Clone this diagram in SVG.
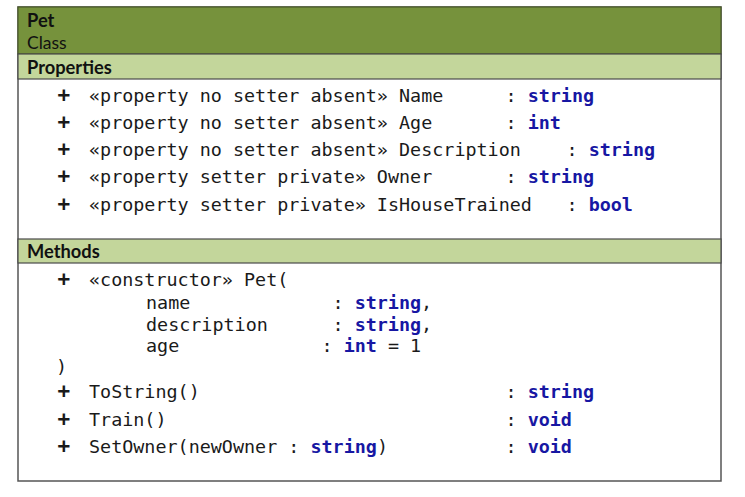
<svg xmlns="http://www.w3.org/2000/svg" width="745" height="497" viewBox="0 0 745 497">
<style>
.hdr{font-family:Lato,"Open Sans","Liberation Sans",sans-serif;font-size:17.5px;fill:#111}
.b{font-weight:bold;font-size:18.3px}
.m{font-family:"DejaVu Sans Mono","Liberation Mono",monospace;font-size:18.4px;fill:#1a1a1a}
.p{font-weight:bold;font-size:21px}
.t{font-weight:bold;fill:#1717a3}
.band{fill:#c3d69b;stroke:#4a4a4a;stroke-width:1.2}
</style>
<rect width="745" height="497" fill="#ffffff"/>
<g id="Pet">
  <rect x="18" y="7" width="703" height="474" fill="#ffffff" stroke="#555" stroke-width="1.5"/>
  <rect x="18" y="7" width="703" height="47" fill="#76923c" stroke="#4a5a28" stroke-width="1.2"/>
  <text class="hdr b" x="27" y="27">Pet</text>
  <text class="hdr" x="27" y="49" fill="#1a1a1a">Class</text>
  <rect class="band" x="18" y="54" width="703" height="25"/>
  <text class="hdr b" x="27" y="74">Properties</text>
  <g id="properties">
    <text class="m p" x="57.5" y="102">+</text>
    <text class="m" x="89" y="102">«property no setter absent» Name</text>
    <text class="m" x="505.5" y="102">: <tspan class="t">string</tspan></text>
    <text class="m p" x="57.5" y="129">+</text>
    <text class="m" x="89" y="129">«property no setter absent» Age</text>
    <text class="m" x="505.5" y="129">: <tspan class="t">int</tspan></text>
    <text class="m p" x="57.5" y="156">+</text>
    <text class="m" x="89" y="156">«property no setter absent» Description</text>
    <text class="m" x="566.5" y="156">: <tspan class="t">string</tspan></text>
    <text class="m p" x="57.5" y="183">+</text>
    <text class="m" x="89" y="183">«property setter private» Owner</text>
    <text class="m" x="505.5" y="183">: <tspan class="t">string</tspan></text>
    <text class="m p" x="57.5" y="211">+</text>
    <text class="m" x="89" y="211">«property setter private» IsHouseTrained</text>
    <text class="m" x="566.5" y="211">: <tspan class="t">bool</tspan></text>
  </g>
  <rect class="band" x="18" y="239" width="703" height="24"/>
  <text class="hdr b" x="27" y="258">Methods</text>
  <g id="methods">
    <text class="m p" x="57.5" y="286">+</text>
    <text class="m" x="89" y="286">«constructor» Pet(</text>
    <text class="m" x="146" y="309">name</text>
    <text class="m" x="332.5" y="309">: <tspan class="t">string</tspan>,</text>
    <text class="m" x="146" y="331">description</text>
    <text class="m" x="332.5" y="331">: <tspan class="t">string</tspan>,</text>
    <text class="m" x="146" y="352">age</text>
    <text class="m" x="321.5" y="352">: <tspan class="t">int</tspan> = 1</text>
    <text class="m" x="56" y="373">)</text>
    <text class="m p" x="57.5" y="398">+</text>
    <text class="m" x="89" y="398">ToString()</text>
    <text class="m" x="505.5" y="398">: <tspan class="t">string</tspan></text>
    <text class="m p" x="57.5" y="426">+</text>
    <text class="m" x="89" y="426">Train()</text>
    <text class="m" x="505.5" y="426">: <tspan class="t">void</tspan></text>
    <text class="m p" x="57.5" y="453">+</text>
    <text class="m" x="89" y="453">SetOwner(newOwner : <tspan class="t">string</tspan>)</text>
    <text class="m" x="505.5" y="453">: <tspan class="t">void</tspan></text>
  </g>
</g>
<g id="connectors"/>
</svg>
